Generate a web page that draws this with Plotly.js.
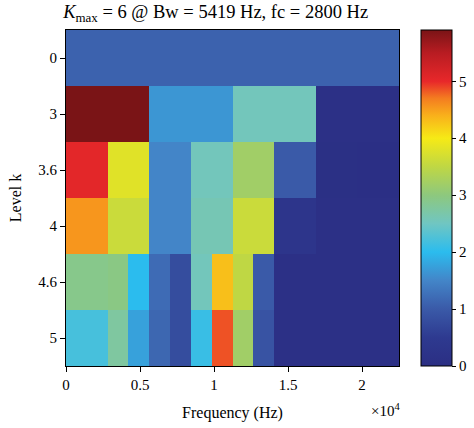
<!DOCTYPE html>
<html>
<head>
<meta charset="utf-8">
<script src="https://cdn.plot.ly/plotly-3.0.1.min.js"></script>
<style>html,body{margin:0;padding:0;background:#fff;}#chart{width:474px;height:428px;}</style>
</head>
<body>
<div id="chart"></div>
<script>
// Level labels (rows, top to bottom)
var levelLabels = ["0", "3", "3.6", "4", "4.6", "5"];
// Max frequency (Hz)
var fMax = 22500;
// Kurtosis per frequency band for each level
var row0  = [1.1];
var row3  = [5.9, 1.65, 2.55, 0.1];
var row36 = [5.05, 3.8, 1.5, 2.55, 3.2, 1.0, 0.08, 0.06];
var row4  = [4.55, 3.6, 1.5, 2.6, 3.6, 0.3, 0.1, 0.1];
var row46 = [2.9, 2.9, 2.95, 2.0, 1.2, 0.8, 2.55, 4.3, 3.5, 1.0, 0.1, 0.1, 0.1, 0.1, 0.1, 0.1];
var row5  = [2.2, 2.2, 2.75, 1.75, 1.15, 0.8, 2.1, 4.85, 3.2, 0.9, 0.1, 0.1, 0.1, 0.1, 0.1, 0.1];
var rows = [row0, row3, row36, row4, row46, row5];
var zMax = 5.9;

var cs = [
  [0.000, '#2b2e83'],
  [0.085, '#2e3a90'],
  [0.170, '#3a5aa8'],
  [0.254, '#4385c8'],
  [0.339, '#2bbcee'],
  [0.424, '#70c6c2'],
  [0.508, '#8dc87e'],
  [0.593, '#bfd744'],
  [0.678, '#f6ea16'],
  [0.746, '#f9b01b'],
  [0.797, '#f47c20'],
  [0.847, '#e8282a'],
  [0.932, '#b81c22'],
  [1.000, '#7a1416']
];

var font = 'Liberation Serif, Times New Roman, serif';
var traces = rows.map(function (vals, i) {
  var n = vals.length;
  var edges = [];
  for (var j = 0; j <= n; j++) edges.push(j * fMax / n);
  return {
    type: 'heatmap',
    x: edges,
    y: [i - 0.5, i + 0.5],
    z: [vals],
    zmin: 0, zmax: zMax,
    colorscale: cs,
    showscale: i === 0,
    hoverinfo: 'x+y+z',
    colorbar: {
      x: 1.066, xanchor: 'left', xpad: 0,
      y: 0.5, yanchor: 'middle', len: 1, lenmode: 'fraction', ypad: 0,
      thickness: 31, thicknessmode: 'pixels',
      outlinecolor: '#000', outlinewidth: 1,
      ticks: 'outside', ticklen: 4, tickcolor: '#000',
      tickvals: [0, 1, 2, 3, 4, 5],
      tickfont: {family: font, size: 15, color: '#000'}
    }
  };
});

var layout = {
  width: 474, height: 428,
  margin: {l: 66, r: 75, t: 30, b: 62, autoexpand: false},
  paper_bgcolor: '#fff', plot_bgcolor: '#fff',
  font: {family: font, size: 15, color: '#000'},
  title: {
    text: '<i>K</i><sub>max</sub> = 6 @ Bw = 5419 Hz, fc = 2800 Hz',
    font: {family: font, size: 18.5, color: '#000'},
    x: 0.455, xanchor: 'center', y: 0.972, yanchor: 'middle', yref: 'container', xref: 'container'
  },
  xaxis: {
    range: [0, fMax],
    tickvals: [0, 5000, 10000, 15000, 20000],
    ticktext: ['0', '0.5', '1', '1.5', '2'],
    ticks: 'outside', ticklen: 5, tickcolor: '#000',
    showline: true, linecolor: '#000', linewidth: 1, mirror: true,
    showgrid: false, zeroline: false,
    tickfont: {family: font, size: 15},
    title: {text: 'Frequency (Hz)', font: {family: font, size: 16}, standoff: 14}
  },
  yaxis: {
    range: [5.5, -0.5],
    tickvals: [0, 1, 2, 3, 4, 5],
    ticktext: levelLabels,
    ticks: 'outside', ticklen: 5, tickcolor: '#000',
    showline: true, linecolor: '#000', linewidth: 1, mirror: true,
    showgrid: false, zeroline: false,
    tickfont: {family: font, size: 15},
    title: {text: 'Level k', font: {family: font, size: 16}, standoff: 12}
  },
  annotations: [{
    text: '×10<sup>4</sup>', xref: 'paper', yref: 'paper',
    x: 0.96, y: -0.131, xanchor: 'center', yanchor: 'middle',
    showarrow: false, font: {family: font, size: 15, color: '#000'}
  }]
};

Plotly.newPlot('chart', traces, layout, {displayModeBar: false, staticPlot: true});
</script>
</body>
</html>
